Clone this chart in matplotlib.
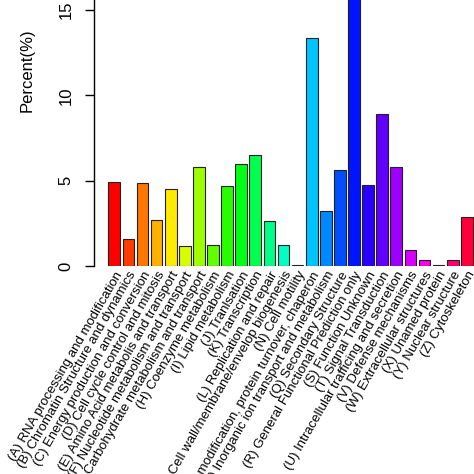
import colorsys
import matplotlib
matplotlib.use("Agg")
import matplotlib.pyplot as plt

plt.rcParams["font.family"] = ["Liberation Sans", "DejaVu Sans"]

# COG categories and percentages
categories = [
    "(A) RNA processing and modification",
    "(B) Chromatin Structure and dynamics",
    "(C) Energy production and conversion",
    "(D) Cell cycle control and mitosis",
    "(E) Amino Acid metabolis and transport",
    "(F) Nucleotide metabolism and transport",
    "(G) Carbohydrate metabolism and transport",
    "(H) Coenzyme metabolism",
    "(I) Lipid metabolism",
    "(J) Tranlsation",
    "(K) Transcription",
    "(L) Replication and repair",
    "(M) Cell wall/membrane/envelop biogenesis",
    "(N) Cell motility",
    "(O) Post-translational modification, protein turnover, chaperon",
    "(P) Inorganic ion transport and metabolism",
    "(Q) Secondary Structure",
    "(R) General Functional Prediction only",
    "(S) Function Unknown",
    "(T) Signal Transduction",
    "(U) Intracellular trafficing and secretion",
    "(V) Defense mechanisms",
    "(W) Extracellular structures",
    "(X) Unamed protein",
    "(Y) Nuclear structure",
    "(Z) Cytoskeleton",
]
percent = [4.90, 1.58, 4.86, 2.68, 4.49, 1.17, 5.80, 1.25, 4.69, 6.00,
           6.48, 2.66, 1.21, 0.03, 13.36, 3.20, 5.62, 20.0, 4.76, 8.92,
           5.78, 0.92, 0.33, 0.03, 0.37, 2.87]

n = len(categories)
colors = [colorsys.hsv_to_rgb(i / n, 1, 1) for i in range(n)]

fig = plt.figure(figsize=(4.74, 4.74), dpi=100)
ax = fig.add_axes([94 / 474, 1 - 266 / 474, 1 - 94 / 474, 266 / 474])

x = list(range(n))
ax.bar(x, percent, width=0.83, color=colors, edgecolor="#222222", linewidth=0.8)

ax.set_xlim(-1.44, 25.51)
ax.set_ylim(0, 15.58)

for s in ["top", "right", "bottom"]:
    ax.spines[s].set_visible(False)
ax.spines["left"].set_linewidth(1.0)

ax.set_yticks([0, 5, 10, 15])
ax.tick_params(axis="y", length=6.5, width=1.0, pad=8, labelsize=12,
               labelrotation=90)
for lab in ax.get_yticklabels():
    lab.set_va("center")

ax.set_xticks(x)
ax.set_xticklabels(categories, rotation=60, ha="right",
                   rotation_mode="anchor", fontsize=9.5)
ax.tick_params(axis="x", length=0, pad=2.5)

fig.text(27 / 474, 1 - 70 / 474, "Percent(%)", rotation=90,
         ha="center", va="center", fontsize=12)

fig.savefig("out.png", dpi=100)
